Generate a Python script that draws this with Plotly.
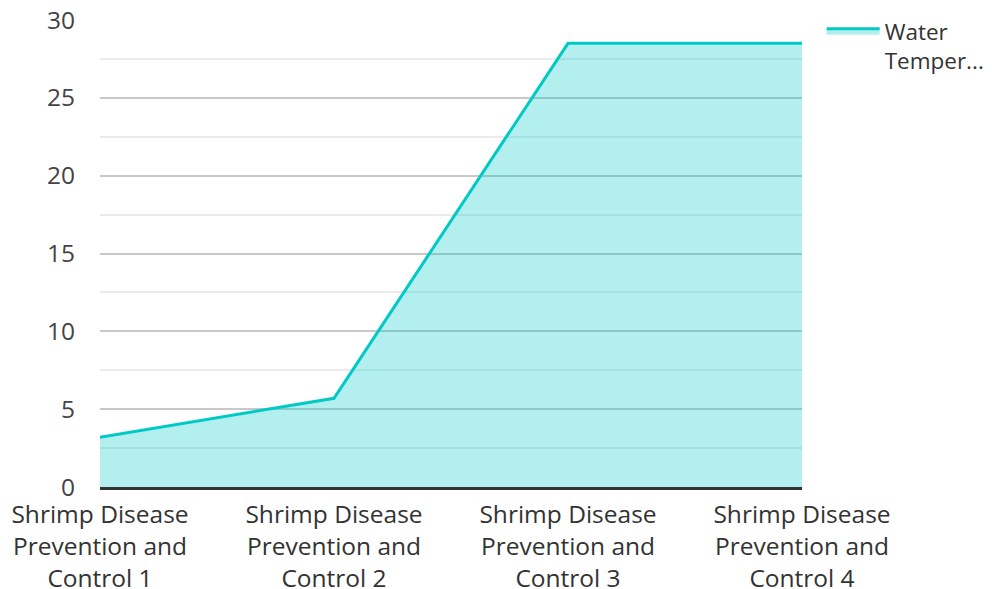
import plotly.graph_objects as go

categories = [
    "Shrimp Disease<br>Prevention and<br>Control 1",
    "Shrimp Disease<br>Prevention and<br>Control 2",
    "Shrimp Disease<br>Prevention and<br>Control 3",
    "Shrimp Disease<br>Prevention and<br>Control 4",
]
water_temperature = [3.2, 5.7, 28.5, 28.5]
series_name = "Water<br>Temper..."
y_ticks = [0, 5, 10, 15, 20, 25, 30]

FONT = "Open Sans"
FS = 24.5
TEXT = "#333333"

fig = go.Figure()
fig.add_trace(go.Scatter(
    x=categories,
    y=water_temperature,
    name=series_name,
    mode="lines",
    line=dict(color="#00c9c6", width=3),
    fill="tozeroy",
    fillcolor="rgba(0,201,198,0.30)",
    showlegend=True,
))

fig.update_layout(
    width=984,
    height=581,
    margin=dict(l=92, r=190, t=12, b=102, autoexpand=False),
    paper_bgcolor="white",
    plot_bgcolor="white",
    font=dict(family=FONT, size=FS, color=TEXT),
    legend=dict(
        x=1.028, xanchor="left",
        y=1.022, yanchor="top",
        valign="top",
        itemwidth=53,
        font=dict(family=FONT, size=22.5, color=TEXT),
        bgcolor="rgba(0,0,0,0)",
    ),
    xaxis=dict(
        type="category",
        range=[0, 3],
        showgrid=False,
        showline=True,
        linecolor="#333333",
        linewidth=2.5,
        ticks="",
        automargin=False,
        ticklabelstandoff=4,
        ticklabeloverflow="allow",
        tickfont=dict(family=FONT, size=FS, color=TEXT),
        fixedrange=True,
    ),
    yaxis=dict(
        range=[0, 30],
        tickvals=y_ticks,
        showgrid=True,
        gridcolor="#c8c8c8",
        gridwidth=1.5,
        zeroline=False,
        showline=False,
        ticks="",
        automargin=False,
        ticklabelstandoff=24,
        ticklabeloverflow="allow",
        tickfont=dict(family=FONT, size=FS, color="#444444"),
        minor=dict(dtick=2.5, showgrid=True, gridcolor="#ebebeb", gridwidth=1.5),
        fixedrange=True,
    ),
)

fig.write_html("out.html")
